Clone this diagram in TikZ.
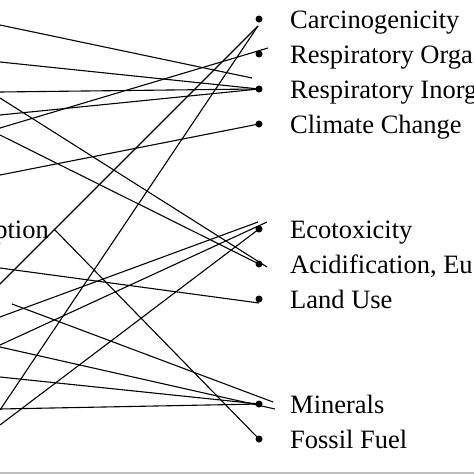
\documentclass[tikz,border=0pt]{standalone}
\usepackage{fontspec}
\setmainfont{Liberation Serif}
\begin{document}
\begin{tikzpicture}[x=1pt,y=-1pt,
  conn/.style={line width=1.1pt, black},
  dotnode/.style={circle, fill=black, inner sep=0pt, minimum size=7pt},
  lab/.style={anchor=base west, inner sep=0pt, font=\fontsize{26.5}{30}\selectfont},
  leftlab/.style={anchor=base east, inner sep=0pt, font=\fontsize{26.5}{30}\selectfont}]
\useasboundingbox (0,0) rectangle (474,474);
\clip (0,0) rectangle (474,474);
% right-hand dots
\node[dotnode] (carc) at (259,19) {};
\node[dotnode] (ro) at (259,54) {};
\node[dotnode] (ri) at (259,89) {};
\node[dotnode] (cc) at (259,124) {};
\node[dotnode] (eco) at (259,229) {};
\node[dotnode] (acid) at (259,264) {};
\node[dotnode] (lu) at (259,299) {};
\node[dotnode] (min) at (259,404) {};
\node[dotnode] (ff) at (259,439) {};
% labels
\node[lab] (tcarc) at (290,28) {Carcinogenicity};
\node[lab] (tro) at (290,63) {Respiratory Orga};
\node[lab] (tri) at (290,98) {Respiratory Inorg};
\node[lab] (tcc) at (290,133) {Climate Change};
\node[lab] (teco) at (290,238) {Ecotoxicity};
\node[lab] (tacid) at (290,273) {Acidification, Eu};
\node[lab] (tlu) at (290,308) {Land Use};
\node[lab] (tmin) at (290,413) {Minerals};
\node[lab] (tff) at (290,448) {Fossil Fuel};
\node[leftlab] (cons) at (49,238) {ption};
% free ends of connectors
\coordinate (l1) at (0,25);   \coordinate (e1) at (252,78);
\coordinate (l2) at (0,62);
\coordinate (l3) at (0,92);
\coordinate (l4) at (0,98);   \coordinate (e4) at (267,267);
\coordinate (l5) at (0,115);
\coordinate (l6) at (0,128);  \coordinate (e6) at (268,48);
\coordinate (l7) at (0,135);
\coordinate (l8) at (0,175);
\coordinate (apex) at (258,26);
\coordinate (l9) at (0,284);
\coordinate (l10) at (0,410);
\coordinate (consend) at (54,229);
\coordinate (l12) at (0,268); \coordinate (e12) at (259,303);
\coordinate (l13) at (12,304); \coordinate (e13) at (273,402);
\coordinate (l14) at (0,317); \coordinate (e14) at (258,222);
\coordinate (l15) at (0,345); \coordinate (e15) at (267,222);
\coordinate (l16) at (0,425);
\coordinate (l17) at (0,347); \coordinate (e17) at (275,409);
\coordinate (l18) at (0,377);
\coordinate (l19) at (0,409);
% connectors
\draw[conn] (l1) -- (e1);
\draw[conn] (l2) -- (ri.center);
\draw[conn] (l3) -- (ri.west);
\draw[conn] (l4) -- (e4);
\draw[conn] (l5) -- (ri.center);
\draw[conn] (l6) -- (e6);
\draw[conn] (l7) -- (acid.center);
\draw[conn] (l8) -- (cc.center);
\draw[conn] (apex) -- (l9);
\draw[conn] (apex) -- (l10);
\draw[conn] (consend) -- (ff.center);
\draw[conn] (l12) -- (e12);
\draw[conn] (l13) -- (e13);
\draw[conn] (l14) -- (e14);
\draw[conn] (l15) -- (e15);
\draw[conn] (l16) -- (eco.center);
\draw[conn] (l17) -- (e17);
\draw[conn] (l18) -- (min.center);
\draw[conn] (l19) -- (min.center);
% bottom grey rule
\fill[black!25] (0,472) rectangle (474,474);
\end{tikzpicture}
\end{document}
